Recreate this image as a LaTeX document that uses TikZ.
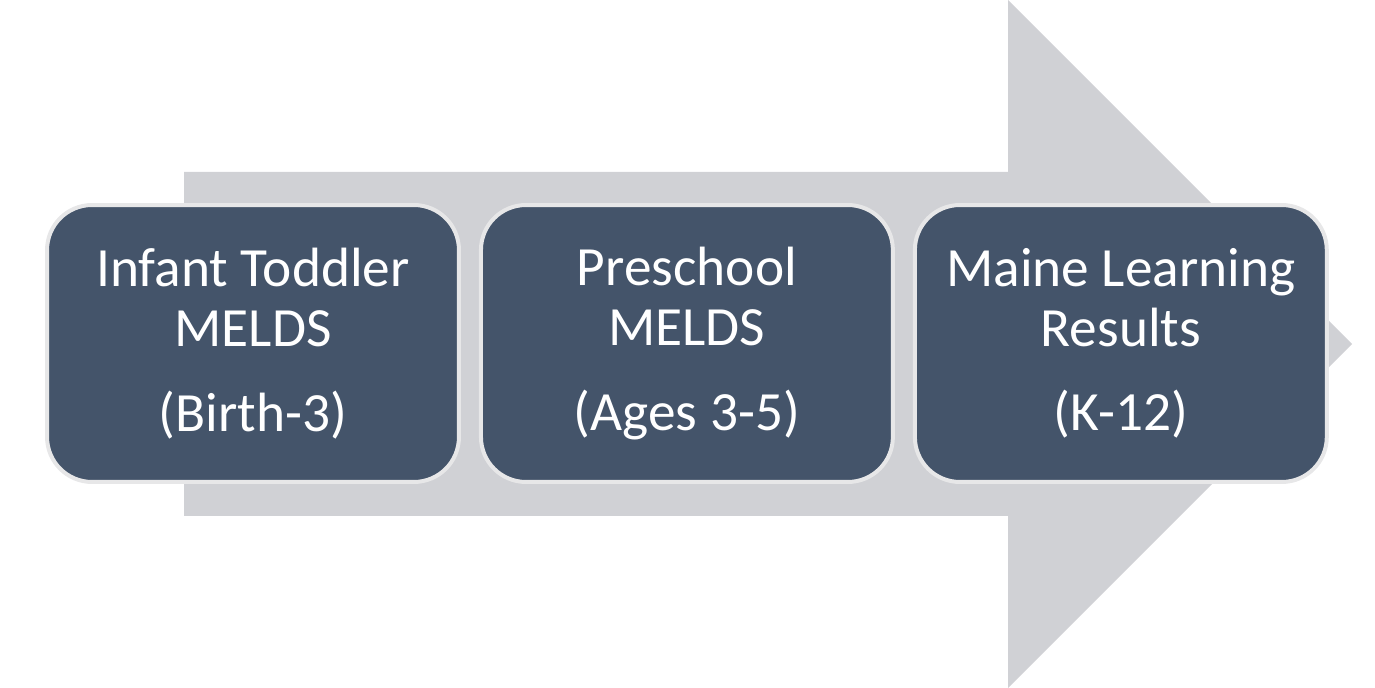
\documentclass[tikz,border=0pt]{standalone}
\usepackage{fontspec}
\setmainfont{Carlito}
\usetikzlibrary{positioning}
\definecolor{arrowgray}{RGB}{208,209,213}
\definecolor{slate}{RGB}{68,84,106}
\definecolor{rim}{RGB}{231,231,232}
\tikzset{stage/.style={draw=rim,line width=0.08cm,fill=slate,rounded corners=0.9cm,
  minimum width=8.24cm,minimum height=5.54cm,align=center,text=white,
  font=\fontsize{31.5}{34}\selectfont}}

\begin{document}
\begin{tikzpicture}[x=0.02cm,y=-0.02cm]
\useasboundingbox (0,0) rectangle (1375,688);
\path [fill=arrowgray] (184,172) -- (1008,172) -- (1008,0) -- (1352,344) -- (1008,688) -- (1008,516) -- (184,516) -- cycle;
\node [stage] (infant) at (253,343.5) {Infant Toddler\\MELDS\\[0.5cm](Birth-3)};
\node [stage,right=0.36cm of infant] (preschool) {Preschool\\MELDS\\[0.5cm](Ages 3-5)};
\node [stage,right=0.36cm of preschool] (maine) {Maine Learning\\Results\\[0.5cm](K-12)};
\end{tikzpicture}
\end{document}
